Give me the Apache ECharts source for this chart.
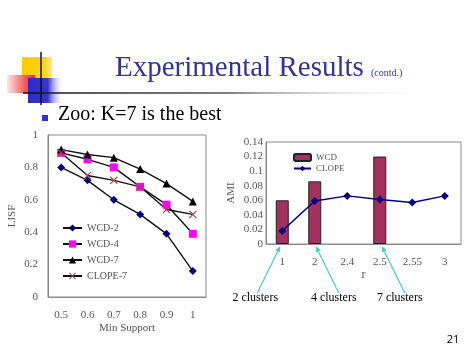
<!DOCTYPE html>
<html><head><meta charset="utf-8">
<script src="https://cdn.jsdelivr.net/npm/echarts@6/dist/echarts.min.js"></script>
<style>html,body{margin:0;padding:0;background:#fff}#c{width:474px;height:355px}</style>
</head><body><div id="c"></div>
<script>
// ---- data ----
const supportCats = ['0.5', '0.6', '0.7', '0.8', '0.9', '1'];
const wcd2 = [0.80, 0.72, 0.60, 0.51, 0.39, 0.16];
const wcd4 = [0.89, 0.85, 0.80, 0.68, 0.57, 0.39];
const wcd7 = [0.91, 0.88, 0.86, 0.79, 0.70, 0.59];
const clope7 = [0.89, 0.75, 0.72, 0.68, 0.54, 0.51];
const rCats = ['1', '2', '2.4', '2.5', '2.55', '3'];
const amiWcd = [0.06, 0.086, null, 0.12, null, null];
const amiClope = [0.018, 0.059, 0.066, 0.061, 0.057, 0.066];
const clusterLabels = ['2 clusters', '4 clusters', '7 clusters'];
const clusterCats = ['1', '2', '2.5'];

const SERIF = '"Liberation Serif", "DejaVu Serif", serif';
const GRAY = '#555';
const AX = '#8a8a8a';
const xMark = 'path://M1,0L5,4L9,0L10,1L6,5L10,9L9,10L5,6L1,10L0,9L4,5L0,1Z';

const chart = echarts.init(document.getElementById('c'), null, {renderer: 'canvas'});

function lineSeries(name, data, symbol, size, color) {
  return {
    name, type: 'line', data, xAxisIndex: 0, yAxisIndex: 0,
    symbol, symbolSize: size, showSymbol: true,
    lineStyle: {color: '#111', width: 1.4},
    itemStyle: {color: color},
    emphasis: {disabled: true}, animation: false
  };
}

const deco = [
  {type: 'rect', shape: {x: 22, y: 57, width: 30, height: 27}, z: 1,
   style: {fill: new echarts.graphic.LinearGradient(0, 0, 1, 0, [{offset: 0, color: '#FFCC00'}, {offset: 0.7, color: '#FFD21A'}, {offset: 1, color: '#FFE680'}])}},
  {type: 'rect', shape: {x: 7, y: 75, width: 28, height: 18}, z: 2,
   style: {fill: new echarts.graphic.LinearGradient(0, 0, 1, 0, [{offset: 0, color: '#FFE8E8'}, {offset: 0.6, color: '#F86060'}, {offset: 1, color: '#EE2828'}])}},
  {type: 'rect', shape: {x: 28, y: 78, width: 36, height: 25}, z: 3,
   style: {fill: new echarts.graphic.LinearGradient(0, 0, 1, 0, [{offset: 0, color: '#2B2BC6'}, {offset: 0.55, color: '#3535CC'}, {offset: 1, color: 'rgba(255,255,255,0)'}])}},
  {type: 'line', shape: {x1: 41, y1: 52, x2: 41, y2: 105}, z: 4, style: {stroke: '#111', lineWidth: 1.5}},
  {type: 'line', shape: {x1: 23, y1: 93, x2: 430, y2: 93}, z: 4,
   style: {lineWidth: 1.6, stroke: new echarts.graphic.LinearGradient(0, 0, 1, 0, [{offset: 0, color: '#111'}, {offset: 0.5, color: '#555'}, {offset: 1, color: 'rgba(255,255,255,0)'}])}},
  {type: 'text', z: 5, style: {x: 115, y: 68, text: 'Experimental Results', font: '29px ' + SERIF, fill: '#333399', verticalAlign: 'middle'}},
  {type: 'text', z: 5, style: {x: 371, y: 73, text: '(contd.)', font: '10px ' + SERIF, fill: '#333399', verticalAlign: 'middle'}},
  {type: 'rect', shape: {x: 42, y: 115, width: 6, height: 6}, z: 5, style: {fill: '#3333CC'}},
  {type: 'text', z: 5, style: {x: 58, y: 115, text: 'Zoo: K=7 is the best', font: '20px ' + SERIF, fill: '#000', verticalAlign: 'middle'}},
  {type: 'text', z: 5, style: {x: 453, y: 340, text: '21', font: '11px "Open Sans", "Liberation Sans", sans-serif', fill: '#000', align: 'center', verticalAlign: 'middle'}}
];

const option = {
  animation: false,
  backgroundColor: '#fff',
  textStyle: {fontFamily: SERIF},
  grid: [
    {left: 48, top: 135, width: 158, height: 162, show: true, borderColor: AX, borderWidth: 1, backgroundColor: 'transparent'},
    {left: 266, top: 142, width: 195, height: 102, show: true, borderColor: AX, borderWidth: 1, backgroundColor: 'transparent'}
  ],
  legend: [
    {data: ['WCD-2', 'WCD-4', 'WCD-7', 'CLOPE-7'], orient: 'vertical', left: 57, top: 218,
     itemWidth: 19, itemHeight: 9, itemGap: 6, textStyle: {color: GRAY, fontSize: 10, fontFamily: SERIF}},
    {data: ['WCD', 'CLOPE'], orient: 'vertical', left: 288, top: 148,
     itemWidth: 17, itemHeight: 7, itemGap: 2, textStyle: {color: GRAY, fontSize: 9, fontFamily: SERIF}}
  ],
  xAxis: [
    {type: 'category', gridIndex: 0, data: supportCats, boundaryGap: true,
     axisLine: {lineStyle: {color: AX}}, axisTick: {inside: true, length: 5, lineStyle: {color: AX}},
     axisLabel: {color: GRAY, fontSize: 11, margin: 13},
     name: 'Min Support', nameLocation: 'middle', nameGap: 26, nameTextStyle: {color: GRAY, fontSize: 11}},
    {type: 'category', gridIndex: 1, data: rCats, boundaryGap: true,
     axisLine: {lineStyle: {color: AX}}, axisTick: {inside: true, length: 4, lineStyle: {color: AX}},
     axisLabel: {color: GRAY, fontSize: 11, margin: 13},
     name: 'r', nameLocation: 'middle', nameGap: 25, nameTextStyle: {color: GRAY, fontSize: 12}}
  ],
  yAxis: [
    {type: 'value', gridIndex: 0, min: 0, max: 1, interval: 0.2,
     axisLine: {show: true, lineStyle: {color: AX}}, axisTick: {show: false}, splitLine: {show: false},
     axisLabel: {color: GRAY, fontSize: 11, margin: 10},
     name: 'LISF', nameLocation: 'middle', nameGap: 30, nameRotate: 90, nameTextStyle: {color: GRAY, fontSize: 11}},
    {type: 'value', gridIndex: 1, min: 0, max: 0.14, interval: 0.02,
     axisLine: {show: true, lineStyle: {color: AX}}, axisTick: {show: false}, splitLine: {show: false},
     axisLabel: {color: GRAY, fontSize: 11, margin: 3},
     name: 'AMI', nameLocation: 'middle', nameGap: 29, nameRotate: 90, nameTextStyle: {color: GRAY, fontSize: 11}}
  ],
  series: [
    lineSeries('WCD-2', wcd2, 'diamond', 8, '#000080'),
    lineSeries('WCD-4', wcd4, 'rect', 8, '#FF00FF'),
    lineSeries('WCD-7', wcd7, 'triangle', 8, '#000'),
    lineSeries('CLOPE-7', clope7, xMark, 8, '#A04848'),
    {name: 'WCD', type: 'bar', xAxisIndex: 1, yAxisIndex: 1, data: amiWcd, barWidth: 13,
     itemStyle: {color: '#A3305E', borderColor: '#222', borderWidth: 1}, emphasis: {disabled: true}},
    {name: 'CLOPE', type: 'line', xAxisIndex: 1, yAxisIndex: 1, data: amiClope,
     symbol: 'diamond', symbolSize: 8, lineStyle: {color: '#000080', width: 1.4}, itemStyle: {color: '#000080'},
     emphasis: {disabled: true}}
  ],
  graphic: deco
};
chart.setOption(option);

// arrows pointing from cluster labels to the bars
const arrowColor = '#3ECFC2';
const tailDx = [-23, 23, 23];
const tipDx = [-2, 1, 2];
const labelDx = [-2, -5, -5];
const extra = [];
clusterCats.forEach((cat, i) => {
  const p = chart.convertToPixel({xAxisIndex: 1, yAxisIndex: 1}, [cat, 0]);
  const tx = p[0] + tipDx[i], ty = p[1] + 2;
  const sx = p[0] + tailDx[i] + tipDx[i], sy = p[1] + 49;
  const ang = Math.atan2(ty - sy, tx - sx);
  const L = 6, W = 2.5;
  const bx = tx - L * Math.cos(ang), by = ty - L * Math.sin(ang);
  extra.push({type: 'line', z: 6, shape: {x1: sx, y1: sy, x2: bx, y2: by}, style: {stroke: arrowColor, lineWidth: 1.2}});
  extra.push({type: 'polygon', z: 6, shape: {points: [[tx, ty],
    [bx + W * Math.sin(ang), by - W * Math.cos(ang)], [bx - W * Math.sin(ang), by + W * Math.cos(ang)]]},
    style: {fill: arrowColor}});
  extra.push({type: 'text', z: 6, style: {x: sx + labelDx[i], y: sy + 5, text: clusterLabels[i],
    font: '12px ' + SERIF, fill: '#000', align: 'center', verticalAlign: 'middle'}});
});
chart.setOption({graphic: deco.concat(extra)});
</script></body></html>
